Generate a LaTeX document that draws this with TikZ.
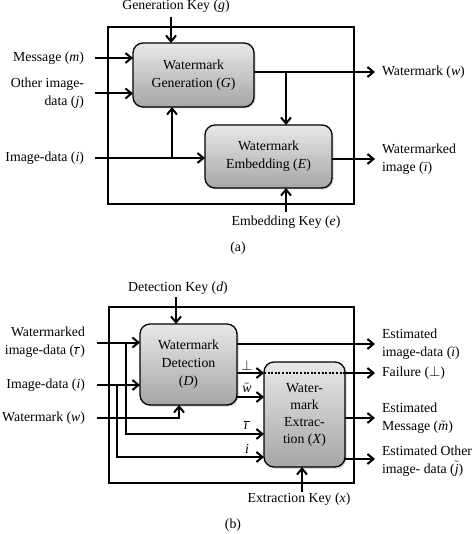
\documentclass[tikz,border=0pt]{standalone}
\usepackage{fontspec}
\setmainfont{Liberation Serif}
\usetikzlibrary{arrows.meta,shadows}
\newcommand{\tacc}[1]{\ensuremath{\tilde{\hbox{\itshape #1}}}}
\newcommand{\bacc}[1]{\ensuremath{\bar{\hbox{\itshape #1}}}}
\newcommand{\oacc}[1]{\ensuremath{\overline{\hbox{\itshape #1\,}}}}
\begin{document}
\begin{tikzpicture}[x=1pt,y=-1pt,
  every node/.style={font=\fontsize{13.8}{18}\selectfont, inner sep=0pt, outer sep=0pt},
  arr/.style={line width=2pt, -{Straight Barb[length=6pt,width=10pt,line width=2pt]}},
  ln/.style={line width=2pt},
  dotln/.style={line width=2pt, dash pattern=on 2pt off 1.6pt},
  frame/.style={line width=2.8pt},
  blk/.style={draw, line width=1.3pt, rounded corners=10pt, top color=gray!18, bottom color=gray!70,
    align=center, drop shadow={opacity=0.35, shadow xshift=1.5pt, shadow yshift=-1.5pt}},
  lt/.style={anchor=east, align=right},
  rt/.style={anchor=west, align=left}]
\useasboundingbox (0,0) rectangle (474,534);
% ---------------- (a) ----------------
\draw[frame] (108,27) rectangle (354,204);
\node[blk, minimum width=121pt, minimum height=64pt] (G) at (193.5,75) {Watermark\\Generation (\textit{G})};
\node[blk, minimum width=127pt, minimum height=63pt] (E) at (268.5,156.5) {Watermark\\Embedding (\textit{E})};
\node (gk) at (176,6) {Generation Key (\textit{g})};
\node[lt] (msg) at (84,58) {Message (\textit{m})};
\node[lt] (oid) at (84,93.5) {Other image-\\data (\textit{j})};
\node[lt] (idat) at (84,158) {Image-data (\textit{i})};
\node[rt] (wm) at (382,72) {Watermark (\textit{w})};
\node[rt] (wmi) at (382,159) {Watermarked\\image (\bacc{\i})};
\node (ek) at (286,222) {Embedding Key (\textit{e})};
\node (capa) at (238,248) {(a)};
\coordinate (gkin) at (171,17);
\coordinate (b1) at (286,72);
\coordinate (b2) at (172,158);
\coordinate (ekin) at (286,212);
\draw[arr] (gkin) -- (gkin |- G.north);
\draw[arr] ([xshift=11pt]msg.east) -- (msg.east -| G.west);
\draw[arr] ([xshift=11pt]oid.east) -- (oid.east -| G.west);
\draw[arr] ([xshift=11pt]idat.east) -- (idat.east -| E.west);
\draw[arr] (b2) -- (b2 |- G.south);
\draw[arr] (wm.west -| G.east) -- ([xshift=-7pt]wm.west);
\draw[arr] (b1) -- (b1 |- E.north);
\draw[arr] (wmi.west -| E.east) -- ([xshift=-7pt]wmi.west);
\draw[arr] (ekin) -- (ekin |- E.south);
% ---------------- (b) ----------------
\draw[frame] (109,307) rectangle (354,483);
\node[blk, minimum width=97pt, minimum height=81pt] (D) at (188.5,364.5) {Watermark\\Detection\\(\textit{D})};
\node[blk, minimum width=81pt, minimum height=105pt, font=\fontsize{13.8}{17}\selectfont] (X) at (304.5,414.5) {Water-\\mark\\Extrac-\\tion (\textit{X})};
\node (dk) at (178,288) {Detection Key (\textit{d})};
\node[lt] (wmd) at (85,342.5) {Watermarked\\image-data (\oacc{\i})};
\node[lt] (idb) at (85,385) {Image-data (\textit{i})};
\node[lt] (wb) at (85,418) {Watermark (\textit{w})};
\node[rt] (eid) at (382,344) {Estimated\\image-data (\tacc{\i})};
\node[rt] (fail) at (382,373) {Failure ($\perp$)};
\node[rt] (emsg) at (382,418) {Estimated\\Message (\tacc{m})};
\node[rt] (eoth) at (382,461) {Estimated Other\\image- data (\tacc{j})};
\node (xk) at (299,499) {Extraction Key (\textit{x})};
\node (capb) at (233,525) {(b)};
\node (lperp) at (247,365) {$\perp$};
\node (lw) at (247,388) {\tacc{w}};
\node (lib) at (247,425) {\oacc{\i}};
\node (li) at (247,449) {\textit{i}};
\coordinate (dkin) at (176,297);
\coordinate (c1) at (126,342);
\coordinate (r1) at (126,434);
\coordinate (c2) at (117,385);
\coordinate (r2) at (117,457);
\coordinate (c3) at (179,418);
\coordinate (o3) at (237,397);
\coordinate (o5) at (345,459);
\coordinate (o5e) at (375,459);
\coordinate (xkin) at (302,492);
\draw[arr] (dkin) -- (dkin |- D.north);
\draw[arr] ([xshift=12pt]wmd.east) -- (wmd.east -| D.west);
\draw[arr] ([xshift=12pt]idb.east) -- (idb.east -| D.west);
\draw[arr] ([xshift=12pt]wb.east) -- (c3) -- (c3 |- D.south);
\draw[arr] (c1) -- (r1) -- (r1 -| X.west);
\draw[arr] (c2) -- (r2) -- (r2 -| X.west);
\draw[arr] (eid.west -| D.east) -- ([xshift=-7pt]eid.west);
\draw[arr] (fail.west -| D.east) -- (fail.west -| X.west);
\draw[dotln] (fail.west -| X.west) -- (fail.west -| X.east);
\draw[arr] (fail.west -| X.east) -- ([xshift=-7pt]fail.west);
\draw[arr] (o3) -- (o3 -| X.west);
\draw[arr] (emsg.west -| X.east) -- ([xshift=-7pt]emsg.west);
\draw[arr] (o5) -- (o5e);
\draw[arr] (xkin) -- (xkin |- X.south);
\end{tikzpicture}
\end{document}
